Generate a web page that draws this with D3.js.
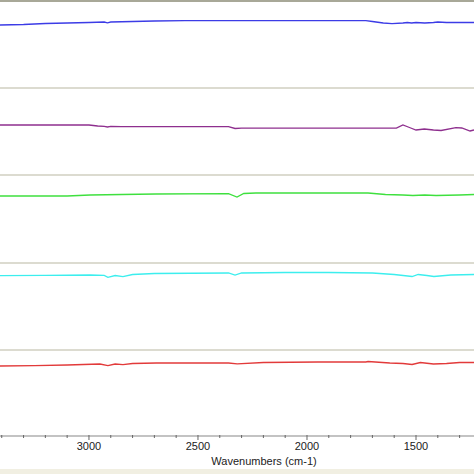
<!DOCTYPE html>
<html><head><meta charset="utf-8">
<script src="https://cdn.jsdelivr.net/npm/d3@7"></script>
<style>body{margin:0;background:#fff}svg{display:block}text{font-family:Arial,"Liberation Sans",sans-serif}</style>
</head><body><script>
// spectra: [wavenumber, height above panel floor]
const blue = [[3408,63],[3300,63.5],[3200,64.5],[3100,65],[3000,65.5],[2930,66],[2915,65.2],[2900,66],[2800,66.5],[2700,67],[2560,67.3],[1730,67.3],[1700,66.5],[1650,65],[1610,64.3],[1560,65],[1540,65.5],[1520,65],[1500,65.5],[1460,65],[1420,65.5],[1400,66],[1360,65.5],[1234,65.5]];
const purple = [[3408,50],[3000,50],[2960,49],[2930,48.6],[2915,48],[2900,48.6],[2850,48.3],[2360,48.3],[2330,46.5],[2300,46.8],[1590,46.8],[1560,50],[1530,47.5],[1500,45],[1462,46],[1420,45],[1385,44.5],[1317,47.3],[1290,47],[1252,44],[1234,45]];
const green = [[3408,67],[3100,67],[2995,68],[2850,68.5],[2693,69],[2360,69.3],[2321,66],[2290,69.5],[2234,70],[1720,70],[1640,68.5],[1560,68],[1514,67.5],[1460,68],[1408,67.5],[1300,68],[1234,68.5]];
const cyan = [[3408,74.3],[3200,74.6],[2995,75],[2930,74.6],[2913,72.7],[2880,74.5],[2844,73.3],[2800,75.5],[2700,76.5],[2360,77],[2330,75],[2300,77],[2100,77.5],[1900,77.5],[1700,77],[1600,75.5],[1518,73.5],[1490,75.5],[1450,74.5],[1418,73.5],[1340,75],[1234,75.5]];
const red = [[3408,70],[3250,70.3],[3100,71],[2950,72],[2913,70.3],[2880,72],[2844,71.3],[2800,72.5],[2690,73],[2360,73],[2320,72.2],[2200,73.5],[1950,74],[1730,74],[1720,74.5],[1620,73],[1560,72.5],[1518,71.5],[1480,73.5],[1420,72],[1360,72.5],[1300,73.5],[1234,73.5]];
const series = [blue, purple, green, cyan, red];
const colors = ["#3c3ce6","#8e2f8e","#3ee03e","#3ceeee","#e23a3a"];
const panelTops = [2, 88, 175, 263, 350];
const tickLabels = [3000, 2500, 2000, 1500];

const W = 474, H = 474, axisY = 436;
const svg = d3.select("body").append("svg").attr("width", W).attr("height", H);

const x = d3.scaleLinear().domain([3408, 1234]).range([0, W]);

// frame bits
svg.append("rect").attr("x",0).attr("y",0).attr("width",W).attr("height",2).attr("fill","#a8a898");
svg.append("rect").attr("x",0).attr("y",469).attr("width",W).attr("height",5).attr("fill","#f1efe2");

panelTops.forEach((top, i) => {
  const bottom = i < 4 ? panelTops[i+1] : axisY;
  if (i > 0) svg.append("line").attr("x1",0).attr("x2",W).attr("y1",top).attr("y2",top)
    .attr("stroke","#dcdbd0").attr("stroke-width",2);
  const y = d3.scaleLinear().domain([0, bottom - top]).range([bottom, top]);
  svg.append("path").datum(series[i])
    .attr("fill","none").attr("stroke",colors[i]).attr("stroke-width",1.3)
    .attr("d", d3.line().x(d => x(d[0])).y(d => y(d[1])));
});

// x axis
const ax = svg.append("g").attr("transform",`translate(0,${axisY})`);
ax.append("line").attr("x1",0).attr("x2",W).attr("stroke","#888").attr("stroke-width",1.2);
ax.selectAll("line.minor").data(d3.range(3400, 1200, -100)).join("line")
  .attr("x1", d => x(d)).attr("x2", d => x(d)).attr("y1",-1).attr("y2", d => d % 500 ? 2 : 4)
  .attr("stroke","#666");
ax.selectAll("text").data(tickLabels).join("text")
  .attr("x", d => x(d)).attr("y", 14).attr("text-anchor","middle")
  .attr("font-size", 11).attr("fill","#222").text(d => d);
svg.append("text").attr("x", 264).attr("y", 465).attr("text-anchor","middle")
  .attr("font-size", 11).attr("fill","#222").text("Wavenumbers (cm-1)");
</script></body></html>
